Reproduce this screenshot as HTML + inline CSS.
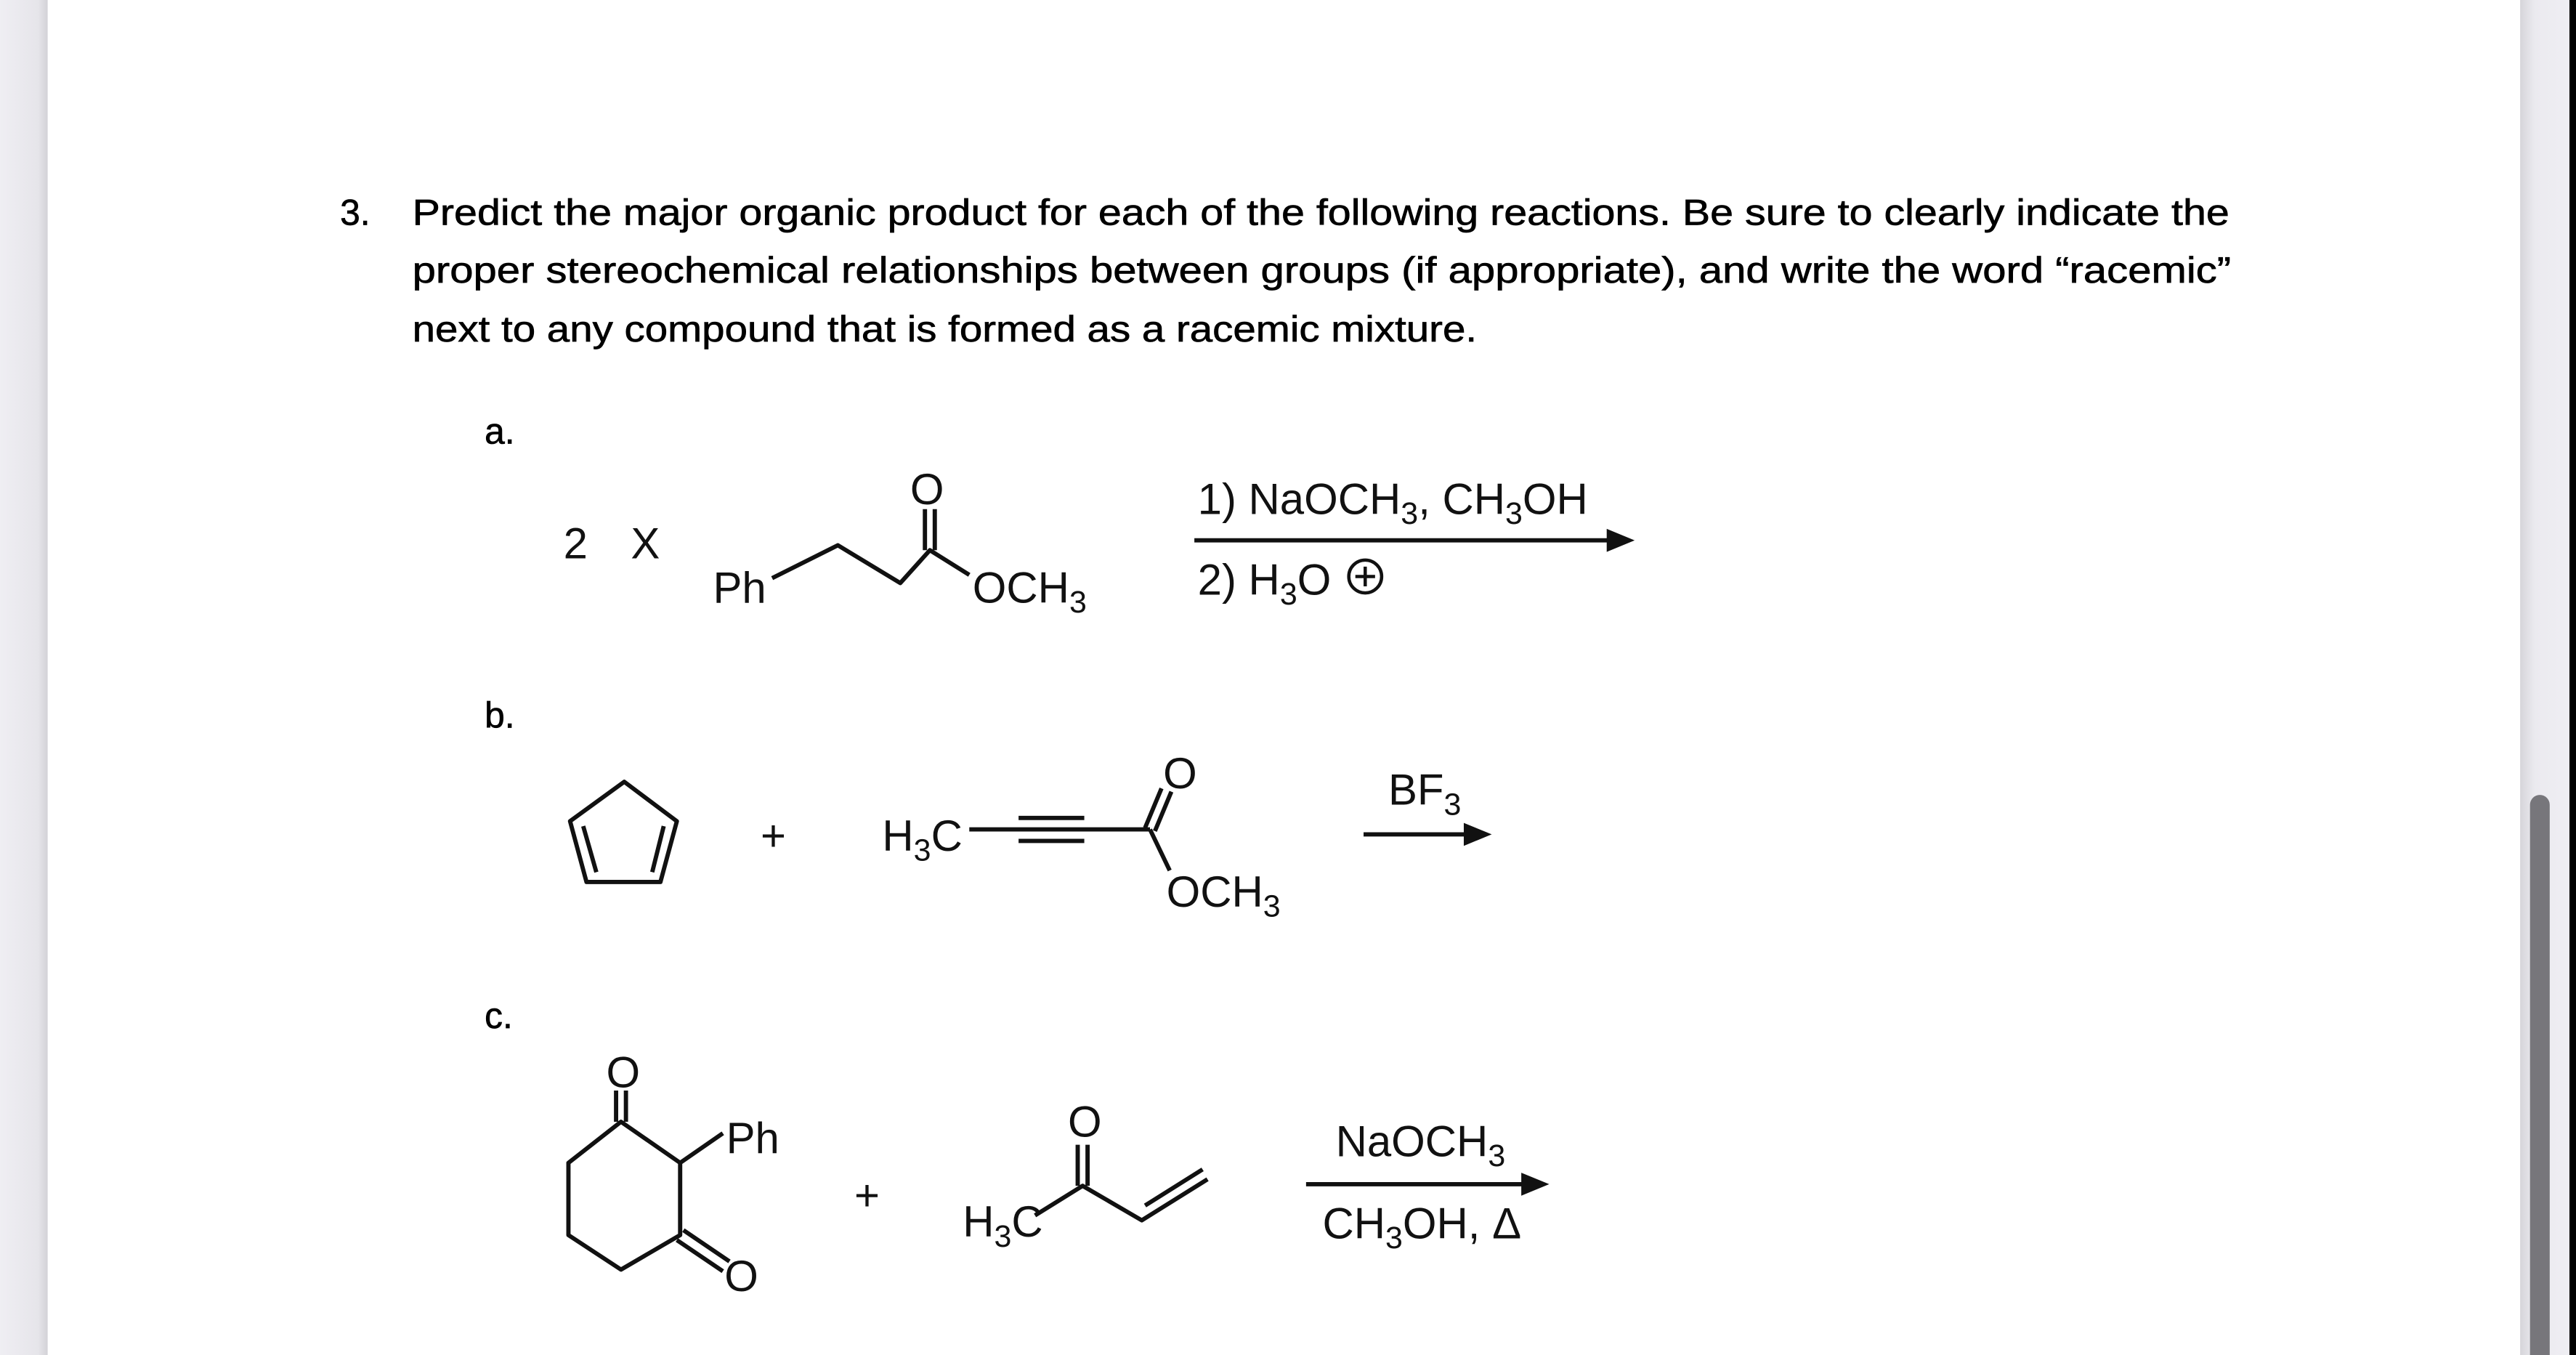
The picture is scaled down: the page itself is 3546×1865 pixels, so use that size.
<!DOCTYPE html>
<html><head><meta charset="utf-8"><style>
html,body{margin:0;padding:0;background:#fff;}
svg{display:block;}
</style></head><body>
<svg width="3546" height="1865" viewBox="0 0 1568 825" preserveAspectRatio="none" xmlns="http://www.w3.org/2000/svg">
<defs>
<linearGradient id="lg" x1="0" x2="1"><stop offset="0" stop-color="#efeef3"/><stop offset="0.8" stop-color="#e6e5ea"/><stop offset="1" stop-color="#d2d1d6"/></linearGradient>
<linearGradient id="rg" x1="0" x2="1"><stop offset="0" stop-color="#d6d5da"/><stop offset="0.3" stop-color="#ebeaef"/><stop offset="1" stop-color="#efeef3"/></linearGradient>
</defs>
<rect width="1568" height="825" fill="#fff"/>
<rect x="0" y="0" width="29" height="825" fill="url(#lg)"/>
<rect x="1534" y="0" width="30" height="825" fill="url(#rg)"/>
<rect x="1564" y="0" width="4" height="825" fill="#000"/>
<rect x="1540" y="484" width="12" height="360" rx="6" fill="#77767b"/>

<g font-family="Liberation Sans, sans-serif" font-size="22" fill="#000" stroke="#000" stroke-width="0.3">
<text x="207" y="137">3.</text>
<text x="251" y="137" textLength="1106" lengthAdjust="spacingAndGlyphs">Predict the major organic product for each of the following reactions.  Be sure to clearly indicate the</text>
<text x="251" y="172" textLength="1107" lengthAdjust="spacingAndGlyphs">proper stereochemical relationships between groups (if appropriate), and write the word “racemic”</text>
<text x="251" y="208" textLength="648" lengthAdjust="spacingAndGlyphs">next to any compound that is formed as a racemic mixture.</text>
<text x="295" y="270">a.</text>
<text x="295" y="443">b.</text>
<text x="295" y="626">c.</text>
</g>

<g font-family="Liberation Sans, sans-serif" font-size="26.5" fill="#111">
<!-- a -->
<text x="343" y="340">2</text><text x="384" y="340">X</text>
<text x="434" y="367">Ph</text>
<text x="554" y="307">O</text>
<text x="592" y="367">OCH<tspan font-size="19" dy="6">3</tspan></text>
<text x="729" y="313">1) NaOCH<tspan font-size="19" dy="6">3</tspan><tspan dy="-6">, CH</tspan><tspan font-size="19" dy="6">3</tspan><tspan dy="-6">OH</tspan></text>
<text x="729" y="362">2) H<tspan font-size="19" dy="6">3</tspan><tspan dy="-6">O</tspan></text>
<!-- b -->
<text x="537" y="518">H<tspan font-size="19" dy="6">3</tspan><tspan dy="-6">C</tspan></text>
<text x="708" y="480">O</text>
<text x="710" y="552">OCH<tspan font-size="19" dy="6">3</tspan></text>
<text x="845" y="490">BF<tspan font-size="19" dy="6">3</tspan></text>
<text x="463" y="518">+</text>
<!-- c -->
<text x="369" y="662">O</text>
<text x="442" y="702">Ph</text>
<text x="441" y="786">O</text>
<text x="520" y="737">+</text>
<text x="586" y="753">H<tspan font-size="19" dy="6">3</tspan><tspan dy="-6">C</tspan></text>
<text x="650" y="692">O</text>
<text x="813" y="704">NaOCH<tspan font-size="19" dy="6">3</tspan></text>
<text x="805" y="754">CH<tspan font-size="19" dy="6">3</tspan><tspan dy="-6">OH, Δ</tspan></text>
</g>

<g stroke="#111" stroke-width="2.6" fill="none" stroke-linejoin="round">
<!-- a -->
<polyline points="470,352 510,332 548,355 566,335 590,350"/>
<line x1="563" y1="335" x2="563" y2="310"/><line x1="569" y1="335" x2="569" y2="310"/>
<line x1="727" y1="329" x2="983" y2="329"/>
<circle cx="831" cy="351" r="10" stroke-width="2"/>
<line x1="825" y1="351" x2="837" y2="351" stroke-width="2"/><line x1="831" y1="345" x2="831" y2="357" stroke-width="2"/>
<!-- b -->
<polygon points="380,476 412,500 402,537 357,537 347,500"/>
<line x1="355" y1="503" x2="363" y2="531"/><line x1="404" y1="503" x2="397" y2="531"/>
<line x1="590" y1="505" x2="700" y2="505"/>
<line x1="620" y1="498" x2="660" y2="498"/><line x1="620" y1="512" x2="660" y2="512"/>
<line x1="697" y1="504" x2="707" y2="480"/><line x1="703" y1="506" x2="713" y2="482"/>
<line x1="700" y1="505" x2="712" y2="530"/>
<line x1="830" y1="508" x2="897" y2="508"/>
<!-- c -->
<polyline points="414,708 378,683 346,708 346,752 378,773 414,752 414,708 440,690"/>
<line x1="375" y1="683" x2="375" y2="664"/><line x1="381" y1="683" x2="381" y2="664"/>
<line x1="416" y1="749" x2="444" y2="768"/><line x1="412" y1="755" x2="440" y2="774"/>
<polyline points="630,740 659,722 695,743 735,718"/>
<line x1="656" y1="722" x2="656" y2="697"/><line x1="662" y1="722" x2="662" y2="697"/>
<line x1="697" y1="734" x2="732" y2="712"/>
<line x1="795" y1="721" x2="930" y2="721"/>
</g>
<g fill="#111">
<polygon points="995,329 978,322 978,336"/>
<polygon points="908,508 891,501 891,515"/>
<polygon points="943,721 926,714 926,728"/>
</g>
</svg>
</body></html>
